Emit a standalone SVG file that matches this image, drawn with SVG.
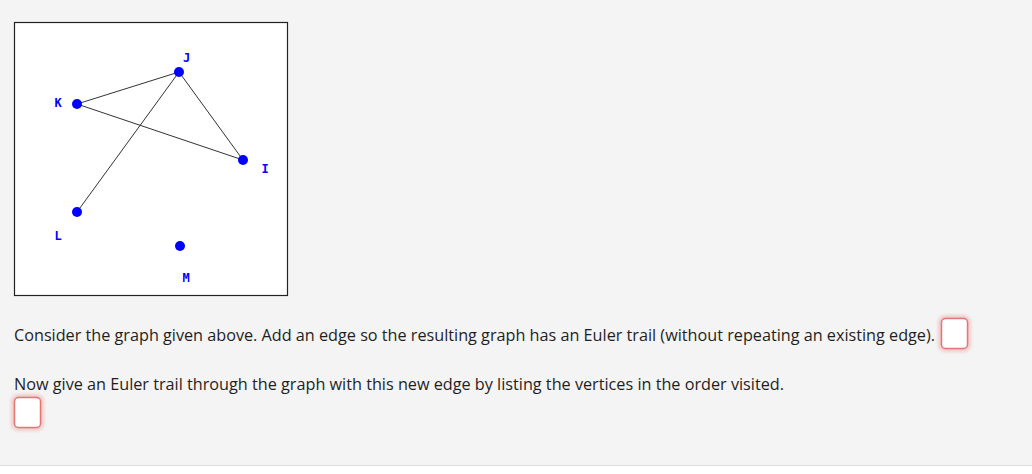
<svg xmlns="http://www.w3.org/2000/svg" width="1032" height="474" viewBox="0 0 1032 474">
<style>
.edge{stroke:#333;stroke-width:1;fill:none}
.node circle{fill:#0000ff}
.node text{fill:#0000ff;font-family:"DejaVu Sans Mono","Liberation Mono",monospace;font-weight:bold;font-size:12px;text-anchor:middle}
.q{fill:#1f1f1f;font-family:"Open Sans","Noto Sans","Liberation Sans",sans-serif;font-size:16px}
.ans{fill:#fff;stroke:#d9534f;stroke-opacity:0.75;stroke-width:1.5}
</style>
<defs>
<filter id="glow" x="-30%" y="-30%" width="160%" height="160%">
<feGaussianBlur stdDeviation="2"/>
</filter>
</defs>
<rect x="0" y="0" width="1032" height="474" fill="#ffffff"/>
<rect x="0" y="0" width="1032" height="465" fill="#f4f4f4"/>
<line x1="0" y1="465.5" x2="1032" y2="465.5" stroke="#dcdcdc"/>
<rect x="14.5" y="22.5" width="273" height="273" fill="#ffffff" stroke="#222" stroke-width="1.2"/>
<g id="connectors">
<line class="edge" x1="77" y1="104" x2="179" y2="72"/>
<line class="edge" x1="77" y1="104" x2="243" y2="160"/>
<line class="edge" x1="179" y1="72" x2="243" y2="160"/>
<line class="edge" x1="179" y1="72" x2="77" y2="212"/>
</g>
<g id="node-J" class="node"><circle cx="179" cy="72" r="5"/><text x="186.5" y="62">J</text></g>
<g id="node-K" class="node"><circle cx="77" cy="104" r="5"/><text x="58" y="106.5">K</text></g>
<g id="node-I" class="node"><circle cx="243" cy="160" r="5"/><text x="265" y="173">I</text></g>
<g id="node-L" class="node"><circle cx="77" cy="212" r="5"/><text x="58" y="239.5">L</text></g>
<g id="node-M" class="node"><circle cx="180" cy="246" r="5"/><text x="186" y="282">M</text></g>
<text class="q" x="14" y="340.5" textLength="921" lengthAdjust="spacingAndGlyphs">Consider the graph given above. Add an edge so the resulting graph has an Euler trail (without repeating an existing edge).</text>
<text class="q" x="14" y="389.5" textLength="770" lengthAdjust="spacingAndGlyphs">Now give an Euler trail through the graph with this new edge by listing the vertices in the order visited.</text>
<g id="answer1">
<rect x="941" y="318" width="27" height="31" rx="4" fill="none" stroke="#f0a0a0" stroke-width="3" filter="url(#glow)"/>
<rect class="ans" x="941.5" y="318.5" width="26" height="30" rx="4"/>
</g>
<g id="answer2">
<rect x="14" y="397" width="27" height="31" rx="4" fill="none" stroke="#f0a0a0" stroke-width="3" filter="url(#glow)"/>
<rect class="ans" x="14.5" y="397.5" width="26" height="30" rx="4"/>
</g>
</svg>
